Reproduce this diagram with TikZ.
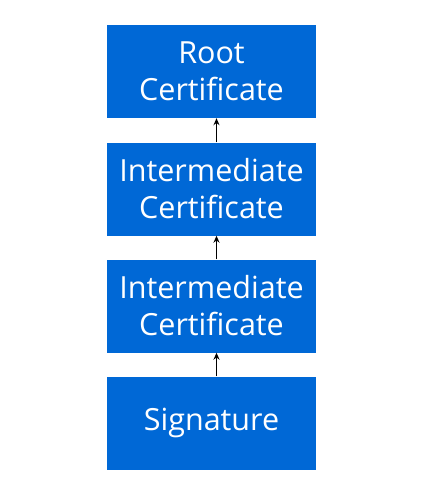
\documentclass[tikz,border=0pt]{standalone}
\usepackage{fontspec}
\setmainfont{Open Sans}
\usetikzlibrary{arrows.meta}
\definecolor{certblue}{RGB}{0,104,214}
\tikzset{
  cert/.style={fill=certblue,text=white,minimum width=209pt,minimum height=93pt,inner sep=0pt,align=center,font=\fontsize{30.5}{37}\selectfont},
  link/.style={-{Stealth[length=7pt,width=6pt]},line width=1.2pt,black}
}
\begin{document}
\begin{tikzpicture}[x=1pt,y=-1pt]
\useasboundingbox (0,0) rectangle (434,500);
\node[cert] (root) at (211.5,71.5) {Root\\Certificate};
\node[cert] (inter1) at (211.5,189) {Intermediate\\Certificate};
\node[cert] (inter2) at (211.5,306) {Intermediate\\Certificate};
\node[cert] (sig) at (211.5,423) {Signature};
\draw[link] ([xshift=5pt]inter1.north) -- ([xshift=5pt]root.south);
\draw[link] ([xshift=5pt]inter2.north) -- ([xshift=5pt]inter1.south);
\draw[link] ([xshift=5pt]sig.north) -- ([xshift=5pt]inter2.south);
\end{tikzpicture}
\end{document}
